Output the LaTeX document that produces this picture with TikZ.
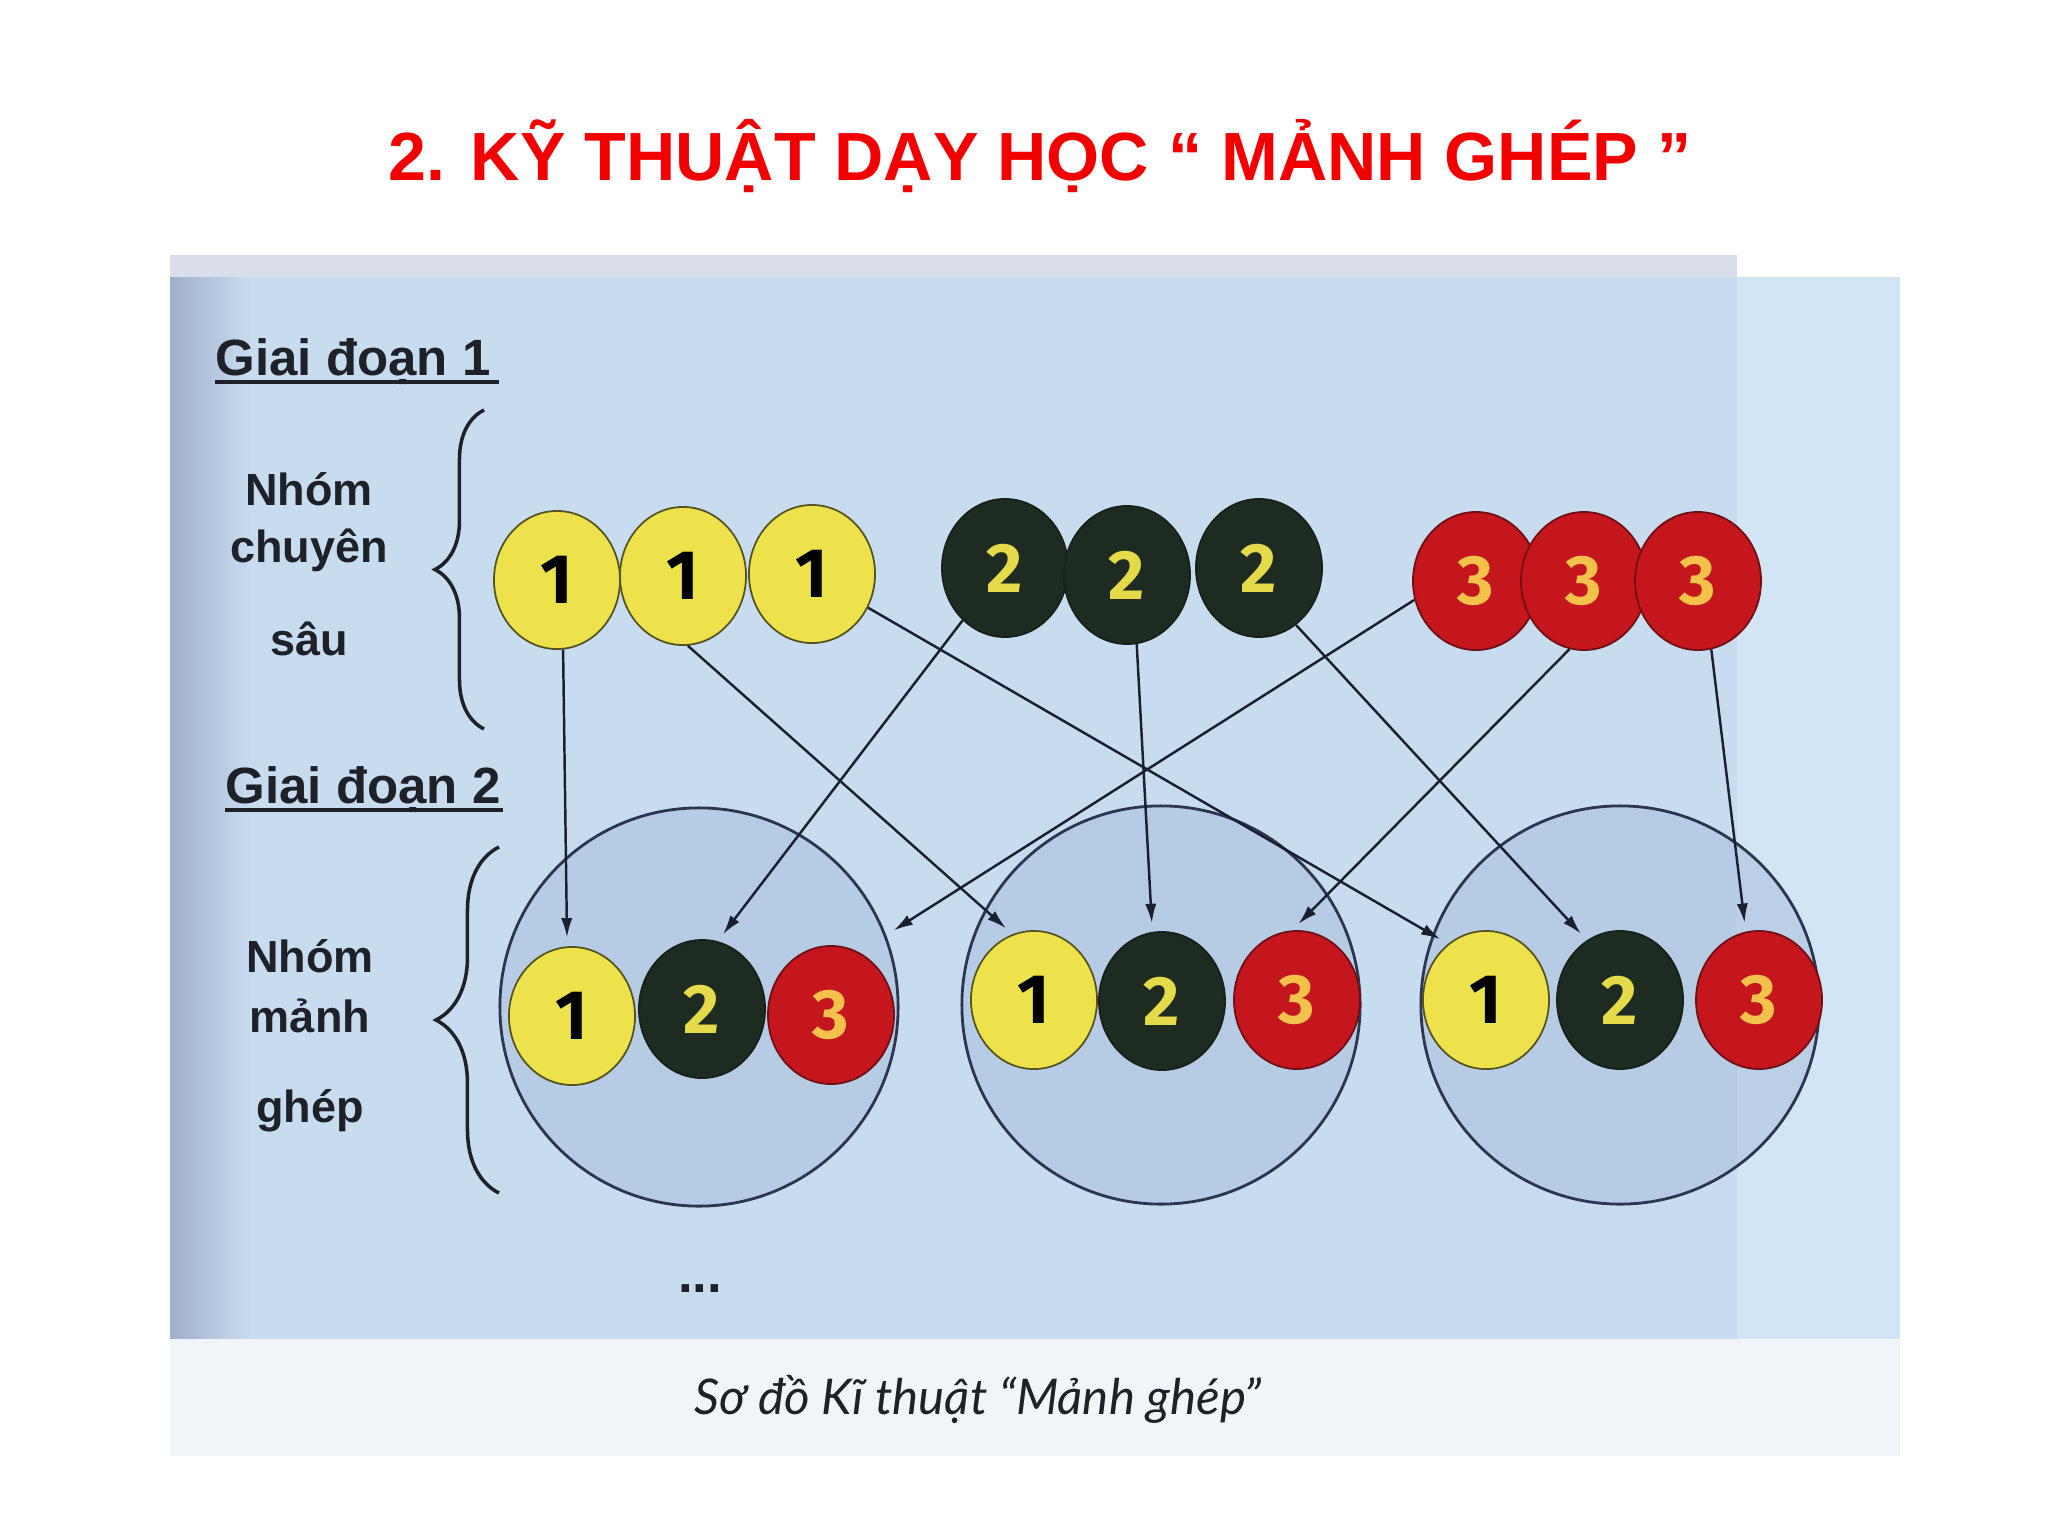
\documentclass[tikz,border=0pt]{standalone}
\usepackage{fontspec}
\setmainfont{Liberation Sans}
\newfontfamily\numfont{Fira Sans}
\newfontfamily\capfont{Lato}
\usetikzlibrary{arrows.meta}
\usetikzlibrary{shapes.geometric}
\usetikzlibrary{decorations.pathreplacing}
\definecolor{titlered}{HTML}{F20000}
\definecolor{photoblue}{HTML}{C8DCF0}
\definecolor{edgeblue}{HTML}{9FAFC9}
\definecolor{topband}{HTML}{D9DEEA}
\definecolor{paleband}{HTML}{F1F5F9}
\definecolor{rightblue}{HTML}{D2E5F5}
\definecolor{linegray}{HTML}{1B2030}
\definecolor{textgray}{HTML}{1E2228}
\definecolor{ballyel}{HTML}{EDE24C}
\definecolor{yeledge}{HTML}{55531F}
\definecolor{ballgrn}{HTML}{1D2B21}
\definecolor{grnedge}{HTML}{17211A}
\definecolor{ballred}{HTML}{C4161C}
\definecolor{rededge}{HTML}{6E1014}
\definecolor{digyel}{HTML}{E4DA4A}
\definecolor{diggold}{HTML}{F4C24A}
\definecolor{ringgray}{HTML}{2C3650}
\definecolor{ringfill}{HTML}{A9C0DB}
\tikzset{->/.style = {-{Latex[length=5.5pt, width=3.2pt]}, shorten >=2.5pt,
                      line width=0.7pt, draw=linegray}}
\tikzset{ball/.style = {ellipse, draw, line width=0.5pt, inner sep=0,
                        minimum width=1.26cm, minimum height=1.38cm,
                        font=\numfont\bfseries\fontsize{19.9}{20}\selectfont}}
\tikzset{yel/.style = {ball, fill=ballyel, draw=yeledge, text=black}}
\tikzset{grn/.style = {ball, fill=ballgrn, draw=grnedge, text=digyel}}
\tikzset{rd/.style = {ball, fill=ballred, draw=rededge, text=diggold}}
\tikzset{group/.style = {circle, draw=ringgray, line width=0.8pt, fill=ringfill,
                         fill opacity=0.55, minimum size=3.98cm, inner sep=0}}
\tikzset{lbl/.style = {font=\bfseries\fontsize{12.8}{14}\selectfont, text=textgray,
                       inner sep=0, anchor=base}}
\tikzset{stage/.style = {font=\bfseries\fontsize{14.5}{16}\selectfont, text=textgray,
                         inner sep=0, anchor=base west}}
\tikzset{uline/.style = {line width=1.1pt, draw=textgray}}
\tikzset{curly/.style = {decorate, line width=1pt, draw=textgray}}

\begin{document}
\begin{tikzpicture}[x=0.01cm, y=-0.01cm]
    \useasboundingbox (0, 0) rectangle (2048, 1536);
    \fill [white] (0, 0) rectangle (2048, 1536);

    % photo background
    \fill [topband] (170, 255) rectangle (1737, 277);
    \fill [photoblue] (170, 277) rectangle (1737, 1339);
    \fill [rightblue] (1737, 277) rectangle (1900, 1339);
    \shade [left color=edgeblue, right color=photoblue] (170, 277) rectangle (250, 1339);
    \fill [paleband] (170, 1339) rectangle (1900, 1456);

    \node [font=\bfseries\fontsize{19.4}{23}\selectfont, text=titlered, anchor=base]
      (title) at (1040, 180) {2. KỸ THUẬT DẠY HỌC “ MẢNH GHÉP ”};

    % stage labels
    \node [stage] (gd1) at (215, 375) {Giai đoạn 1};
    \draw [uline] ([yshift=-0.07cm]gd1.base west) -- ([xshift=0.08cm, yshift=-0.07cm]gd1.base east);
    \node [stage] (gd2) at (225, 803) {Giai đoạn 2};
    \draw [uline] ([yshift=-0.07cm]gd2.base west) -- ([xshift=0.02cm, yshift=-0.07cm]gd2.base east);

    \node [lbl] (nhom1) at (309, 505) {Nhóm};
    \node [lbl] (chuyen) at (309, 562) {chuyên};
    \node [lbl] (sau) at (309, 655) {sâu};
    \node [lbl] (nhom2) at (310, 972) {Nhóm};
    \node [lbl] (manh) at (310, 1032) {mảnh};
    \node [lbl] (ghep) at (310, 1122) {ghép};

    \draw [curly, decoration={brace, amplitude=0.49cm}] (484, 729) -- (484, 410);
    \draw [curly, decoration={brace, amplitude=0.63cm}] (499, 1193) -- (499, 847);

    % expert groups
    \node [yel] (a1) at (557, 580) {1};
    \node [yel] (a2) at (683, 576) {1};
    \node [yel] (a3) at (812, 574) {1};
    \node [grn] (b1) at (1005, 568) {2};
    \node [grn] (b2) at (1127, 575) {2};
    \node [grn] (b3) at (1259, 568) {2};
    \node [rd] (c1) at (1476, 581) {3};
    \node [rd] (c2) at (1584, 581) {3};
    \node [rd] (c3) at (1698, 581) {3};

    % jigsaw groups
    \node [group] (g1) at (699, 1007) {};
    \node [group] (g2) at (1161, 1005) {};
    \node [group] (g3) at (1620, 1005) {};
    \node [yel] (p1) at (572, 1016) {1};
    \node [grn] (p2) at (702, 1009) {2};
    \node [rd] (p3) at (831, 1015) {3};
    \node [yel] (q1) at (1034, 1000) {1};
    \node [grn] (q2) at (1162, 1001) {2};
    \node [rd] (q3) at (1297, 1000) {3};
    \node [yel] (r1) at (1486, 1000) {1};
    \node [grn] (r2) at (1620, 1000) {2};
    \node [rd] (r3) at (1759, 1000) {3};

    \draw [->] (a1.-85) -- (p1.94);
    \draw [->] (a2.-86) -- (q1.108);
    \draw [->] (a3.-31) -- (r1.124);
    \draw [->] (b1.-129) -- (p2.77);
    \draw [->] (b2.-82) -- (q2.98);
    \draw [->] (b3.-57) -- (r2.119);
    \draw [->] (c1.-163) -- (g1.21);
    \draw [->] (c2.-102) -- (q3.94);
    \draw [->] (c3.-79) -- (r3.101);

    \node [font=\bfseries\fontsize{15}{16}\selectfont, text=textgray, anchor=base]
      (dots) at (700, 1292) {...};
    \node [font=\capfont\itshape\fontsize{14}{16}\selectfont, text=textgray, inner sep=0,
      anchor=base west] (caption) at (694, 1414) {Sơ đồ Kĩ thuật “Mảnh ghép”};
  \end{tikzpicture}
\end{document}
